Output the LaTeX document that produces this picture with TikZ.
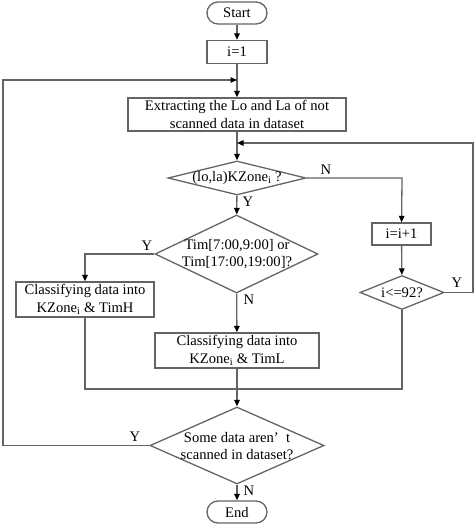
\documentclass[tikz,border=0pt]{standalone}
\usepackage{fontspec}
\setmainfont{Liberation Serif}
\usetikzlibrary{shapes.geometric,arrows.meta}
\definecolor{ln}{RGB}{100,100,100}
\begin{document}
\begin{tikzpicture}[x=1pt,y=-1pt,
  every node/.style={font=\fontsize{14.6}{17.5}\selectfont, text=black},
  box/.style={draw=ln, line width=1.3pt, rectangle, inner sep=0pt, align=center},
  term/.style={draw=ln, line width=1.3pt, rounded corners=11pt, inner sep=0pt, minimum width=60pt, minimum height=22pt},
  dia/.style={draw=ln, line width=1.3pt, diamond, inner sep=0pt},
  txt/.style={inner sep=0pt, align=center},
  lbl/.style={inner sep=0pt},
  conn/.style={draw=ln, line width=1.3pt},
  arr/.style={conn, -{Triangle[length=6.5pt,width=5.5pt,fill=black,color=black]}}
]
\useasboundingbox (0,0) rectangle (474,526);
% terminals and boxes
\node[term] (start) at (237,13) {Start};
\node[box, minimum width=60pt, minimum height=23pt] (i1) at (237,52) {i=1};
\node[box, minimum width=218pt, minimum height=33pt] (ext) at (237,114.5) {Extracting the Lo and La of not\\scanned data in dataset};
\node[dia, minimum width=138pt, minimum height=34pt] (d1) at (237,178) {};
\node[txt] (t1) at (237,178) {(lo,la)KZone\textsubscript{i} ?};
\node[dia, minimum width=163pt, minimum height=78pt] (d2) at (236.5,254) {};
\node[txt] (t2) at (237,254) {Tim[7:00,9:00] or\\Tim[17:00,19:00]?};
\node[box, minimum width=138pt, minimum height=35pt] (bh) at (85,299.5) {Classifying data into\\KZone\textsubscript{i} \& TimH};
\node[box, minimum width=164pt, minimum height=35pt] (bl) at (237,350.5) {Classifying data into\\KZone\textsubscript{i} \& TimL};
\node[box, minimum width=59pt, minimum height=22pt] (ii) at (401.5,234) {i=i+1};
\node[dia, minimum width=84pt, minimum height=34pt] (d4) at (402,292.5) {};
\node[txt] (t4) at (402,292.5) {i<=92?};
\node[dia, minimum width=174pt, minimum height=77pt] (d3) at (237,445.5) {};
\node[txt] (t3) at (237,446) {Some data aren’\enspace t\\scanned in dataset?};
\node[term] (end) at (237,512) {End};
% labels
\node[lbl] (ln1) at (326,170) {N};
\node[lbl] (ly1) at (248,202) {Y};
\node[lbl] (ly2) at (147,246) {Y};
\node[lbl] (ln2) at (249,300) {N};
\node[lbl] (ly4) at (457,283) {Y};
\node[lbl] (ly3) at (135,437) {Y};
\node[lbl] (ln3) at (249,491) {N};
% coordinates
\coordinate (j1) at (237,80);
\coordinate (lc) at (3,80);
\coordinate (j2) at (237,143);
\coordinate (rc) at (473,143);
\coordinate (nc) at (402,178);
\coordinate (hc) at (85,254);
\coordinate (mh) at (85,389);
\coordinate (mr) at (402,389);
% connectors
\draw[arr] (start) -- (i1);
\draw[arr] (i1) -- (ext);
\draw[arr] (ext) -- (d1);
\draw[arr] (d1) -- (d2);
\draw[arr] (d2) -- (bl);
\draw[arr] (bl) -- (d3);
\draw[arr] (d3) -- (end);
\draw[arr] (d1.east) -- (nc) -- (ii);
\draw[arr] (ii) -- (d4);
\draw[arr] (d4.east) -| (rc) -- (j2);
\draw[arr] (d2.west) -- (hc) -- (bh);
\draw[conn] (bh) -- (mh) -- (mr) -- (d4.south);
\draw[arr] (d3.west) -| (lc) -- (j1);
\end{tikzpicture}
\end{document}
